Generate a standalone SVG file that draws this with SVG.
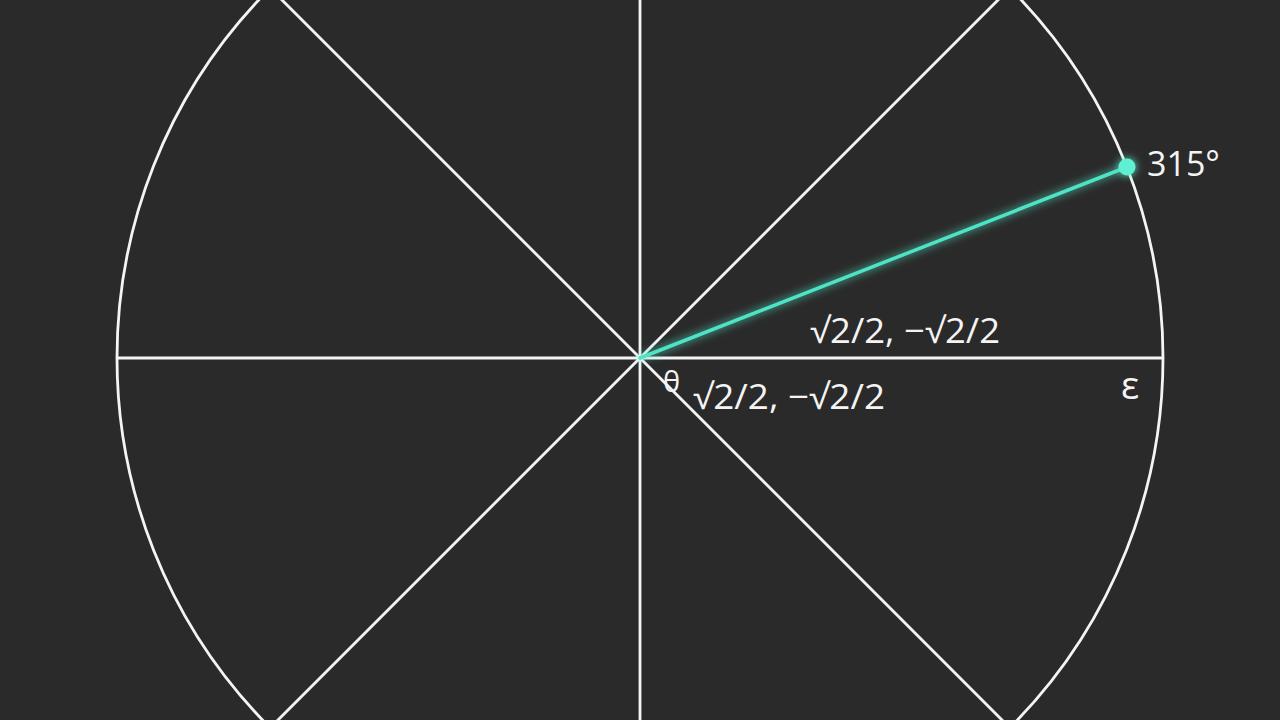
<svg xmlns="http://www.w3.org/2000/svg" width="1280" height="720" viewBox="0 0 1280 720">
<defs>
<style>
.ln{stroke:#f4f4f4;stroke-width:2.8;fill:none}
.t{font-family:"Open Sans","DejaVu Sans",sans-serif;fill:#f4f4f4}
</style>
<filter id="glow" x="-20%" y="-50%" width="140%" height="200%">
<feGaussianBlur stdDeviation="4" result="b"/>
<feMerge><feMergeNode in="b"/><feMergeNode in="SourceGraphic"/></feMerge>
</filter>
</defs>
<rect width="1280" height="720" fill="#2a2a2a"/>
<g id="circle">
<circle class="ln" cx="640" cy="358" r="523"/>
</g>
<g id="connectors">
<line class="ln" x1="117" y1="358" x2="1163" y2="358"/>
<line class="ln" x1="640" y1="-10" x2="640" y2="730"/>
<line class="ln" x1="270" y1="-12" x2="1012" y2="730"/>
<line class="ln" x1="1010" y1="-12" x2="268" y2="730"/>
</g>
<g id="radius" filter="url(#glow)">
<line x1="640" y1="358" x2="1127" y2="167" stroke="#4fe3c6" stroke-width="3.5" stroke-linecap="round"/>
<circle cx="1127" cy="167" r="8.5" fill="#5ff0d2"/>
</g>
<g id="labels">
<text class="t" x="1147" y="176" font-size="34">315°</text>
<text class="t" x="810" y="343" font-size="35" textLength="190" lengthAdjust="spacingAndGlyphs">√2/2, −√2/2</text>
<text class="t" x="693" y="409" font-size="35" textLength="192" lengthAdjust="spacingAndGlyphs">√2/2, −√2/2</text>
<text class="t" x="663" y="392" font-size="29">θ</text>
<text class="t" x="1121" y="399" font-size="38">ε</text>
</g>
</svg>
